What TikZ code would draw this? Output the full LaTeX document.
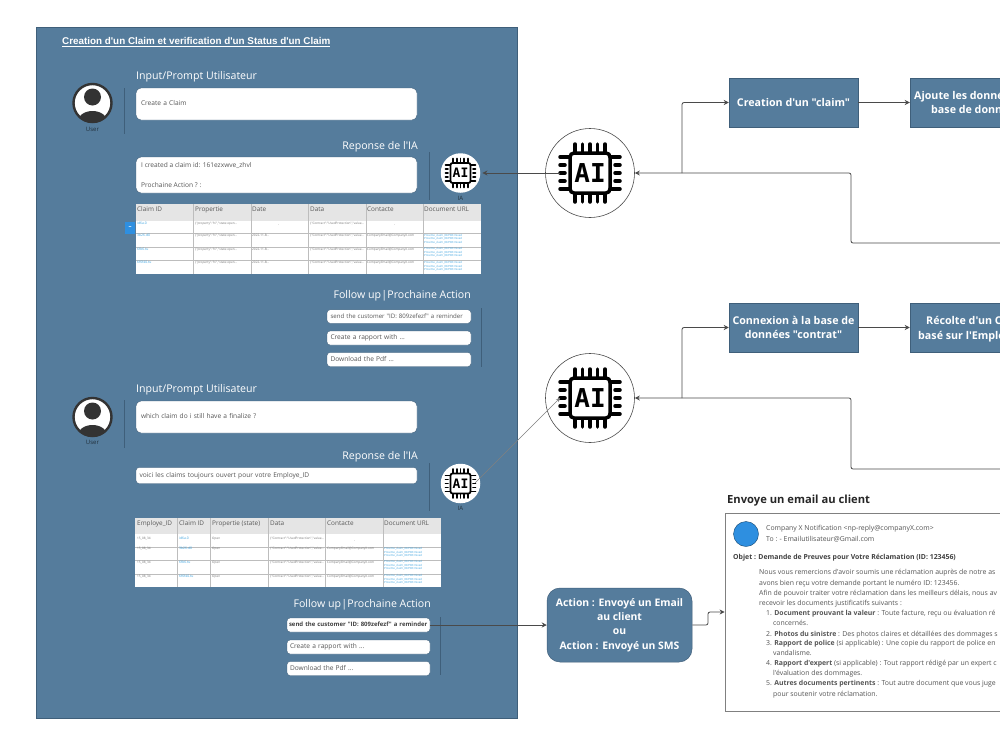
\documentclass[tikz,border=0pt]{standalone}
\usepackage{fontspec}
\setmainfont{Open Sans}[Ligatures=TeXOff]
\newfontfamily\titlefont{Liberation Sans}
\newfontfamily\aifont{DejaVu Sans Mono}
\usetikzlibrary{arrows.meta}
\definecolor{panel}{HTML}{557C9C}
\definecolor{panelline}{HTML}{3F5F7A}
\definecolor{conn}{HTML}{4A4A4A}
\definecolor{link}{HTML}{3BA3E0}
\definecolor{uiblue}{HTML}{2E8FE0}
\definecolor{grayline}{HTML}{BDBDBD}
\definecolor{bodytext}{HTML}{555555}
\newcommand{\fs}[1]{\fontsize{#1}{#1}\selectfont}
\newcounter{cellno}
\newcommand{\tcell}[4][]{\stepcounter{cellno}\node[tcellsty,#1] (cell\thecellno) at (#2,#3) {#4};}
\newcommand{\chipicon}[3]{\begin{scope}[shift={(#1,#2)},x=#3pt,y=#3pt,line width=#3*3.5pt,line cap=round,draw=black]
\draw[rounded corners=#3*4pt] (-20,-20) rectangle (20,20);
\foreach \p in {-15,-7.5,0,7.5,15}{\draw (\p,21)--(\p,29); \draw (\p,-21)--(\p,-29);}
\foreach \s in {-1,1}{
 \draw (\s*20,16)--(\s*30,16);
 \draw (\s*20,-16)--(\s*30,-16);
 \foreach \q in {-8,0,8}{\draw (\s*25,\q)--(\s*30,\q);}
}
\end{scope}}
\newcommand{\usericon}[2]{\begin{scope}[shift={(#1,#2)}]
\begin{scope}
\clip (0,0) circle (20pt);
\fill[black!80] (0,19) ellipse (15pt and 11pt);
\end{scope}
\fill[black!80] (0,-6) circle (8.5pt);
\end{scope}}
\tikzset{
 panelrule/.style={draw=panelline,line width=.9pt},
 uibox/.style={draw=panelline,line width=.4pt,fill=white,rounded corners=#1,inner sep=0pt,text=bodytext,font=\fs{6.6},align=left,text height=5pt,text depth=1.5pt},
 uibox/.default=5pt,
 uitext/.style={anchor=west,inner sep=0pt,text=bodytext,font=\fs{6.6},text height=5pt,text depth=1.5pt},
 heading/.style={text=white,font=\fs{10.6},inner sep=0pt,text height=8.5pt,text depth=2.5pt},
 small/.style={text=black!60!panel,font=\fs{6},inner sep=0pt},
 flowbox/.style={fill=panel,draw=panelline,line width=.5pt,minimum width=129pt,minimum height=49pt,inner sep=0pt,text=white,font=\bfseries\fs{10.7},align=center},
 flowtext/.style={text=white,font=\bfseries\fs{10.7},inner sep=0pt,anchor=west,text height=8.5pt,text depth=2.5pt},
 bigai/.style={circle,draw=black!70,line width=.6pt,fill=white,minimum size=89pt,inner sep=0pt},
 smallai/.style={circle,fill=white,minimum size=39.5pt,inner sep=0pt},
 usercircle/.style={circle,draw=black!80,line width=2.4pt,fill=white,minimum size=38pt,inner sep=0pt},
 connline/.style={draw=conn,line width=.8pt,rounded corners=2pt,-{Stealth[length=5pt,width=5pt]}},
 tcellsty/.style={anchor=west,inner sep=0pt,text=black!55,font=\fs{3.1},text height=2.4pt,text depth=.7pt},
 thead/.style={font=\fs{6.4},text=black!65,text height=5pt,text depth=1.4pt},
 tlink/.style={text=link,font=\fs{3.4}},
 turl/.style={text=link,font=\fs{2.8},text height=2pt,text depth=.6pt},
 mail/.style={anchor=west,inner sep=0pt,text=bodytext,font=\fs{6.9},text height=5.3pt,text depth=1.5pt},
}
\begin{document}
\begin{tikzpicture}[x=1pt,y=-1pt]
\useasboundingbox (0,0) rectangle (1000,750);
\clip (0,0) rectangle (1000,750);
\fill[white] (0,0) rectangle (1000,750);

% panel
\node[fill=panel,draw=panelline,line width=.6pt,minimum width=481.5pt,minimum height=691pt,inner sep=0pt] (panelbg) at (276.8,372.5) {};
\node[anchor=west,inner sep=0pt,text=white,font=\titlefont\bfseries\fs{9.85},text height=7.5pt,text depth=2.3pt] (title) at (62,42) {\underline{Creation d'un Claim et verification d'un Status d'un Claim}};

% first exchange
\node[usercircle] (user1) at (92.5,103) {};
\usericon{92.5}{103}
\node[small] (user1l) at (92.5,129) {User};
\draw[panelrule] (124,88) -- (124,134);
\node[heading,anchor=west] (in1h) at (136,76) {Input/Prompt Utilisateur};
\node[uibox,minimum width=281pt,minimum height=32pt,text width=271pt] (in1) at (276.5,104) {Create a Claim};
\node[heading,anchor=east] (re1h) at (418,146) {Reponse de l'IA};
\node[uibox,minimum width=281pt,minimum height=36pt] (re1) at (276.5,175) {};
\node[uitext] (re1a) at (141,166) {I created a claim id: 161ezxwve\_zhvl};
\node[uitext] (re1b) at (141,186) {Prochaine Action ? :};
\draw[panelrule] (429,152) -- (429,200);
\node[smallai] (ia1) at (460.5,173) {\aifont\bfseries\fs{13}AI};
\chipicon{460.5}{173}{.5}
\node[small] (ia1l) at (460.5,198) {IA};

% table 1
\fill[white] (136,204) rectangle (481,274);
\fill[black!10] (136,204) rectangle (481,221);
\foreach \yy in {233,247,260} \draw[grayline,line width=.7pt] (136,\yy) -- (481,\yy);
\foreach \xx in {193,251,308,366,423} \draw[grayline,line width=.7pt] (\xx,204) -- (\xx,274);
\node[fill=uiblue,minimum width=10pt,minimum height=12pt,inner sep=0pt,text=white,font=\bfseries\fs{6}] (minus) at (130,228) {–};
\tcell[thead]{137}{210}{Claim ID}
\tcell[thead]{195}{210}{Propertie}
\tcell[thead]{252}{210}{Date}
\tcell[thead]{310}{210}{Data}
\tcell[thead]{367}{210}{Contacte}
\tcell[thead]{424}{210}{Document URL}
\foreach \yy/\id in {224/id6a.0,236/3b26.d0,250/6fb6.tu,263/6f6f40.tu}{
 \tcell[tlink]{137}{\yy}{\id}
 \tcell{195}{\yy}{\{"property":"hi","state:open...}
 \tcell{310}{\yy}{\{"Contract":"UsedProtection","value...}
}
\foreach \yy in {236,250,263}{
 \tcell{252}{\yy}{2022-11-B...}
 \tcell{367}{\yy}{CompanyEmail@CompanyX.com}
}
\tcell{278}{225}{-}
\tcell{394}{225}{-}
\foreach \yy in {235.5,239,242.5,249,252.5,256,263,266.5,270}{
 \tcell[turl]{424}{\yy}{Proximo\_claim\_ID/PDF.mixed}
}

% follow up 1
\node[heading,anchor=east] (fu1h) at (471,295) {Follow up\kern.3pt|\kern.3pt Prochaine Action};
\node[uibox=3pt,minimum width=144pt,minimum height=13.5pt,text width=137pt,font=\fs{6.1}] (fu11) at (399,316.5) {\mbox{send the customer "ID: 809zefezf" a reminder}};
\node[uibox=3pt,minimum width=144pt,minimum height=14pt,text width=137pt] (fu12) at (399,338) {Create a rapport with ...};
\node[uibox=3pt,minimum width=144pt,minimum height=14pt,text width=137pt] (fu13) at (399,359.5) {Download the Pdf ...};
\draw[panelrule] (481,308) -- (481,367);

% second exchange
\node[usercircle] (user2) at (92.5,417) {};
\usericon{92.5}{417}
\node[small] (user2l) at (92.5,442) {User};
\draw[panelrule] (124,400) -- (124,448);
\node[heading,anchor=west] (in2h) at (136,389) {Input/Prompt Utilisateur};
\node[uibox,minimum width=281pt,minimum height=32pt,text width=271pt] (in2) at (276.5,417) {which claim do i still have a finalize ?};
\node[heading,anchor=east] (re2h) at (418,456) {Reponse de l'IA};
\node[uibox=3pt,minimum width=281pt,minimum height=16pt,text width=274pt] (re2) at (276.5,475.5) {voici les claims toujours ouvert pour votre Employe\_ID};
\draw[panelrule] (429,463) -- (429,511);
\node[smallai] (ia2) at (460.5,483.5) {\aifont\bfseries\fs{13}AI};
\chipicon{460.5}{483.5}{.5}
\node[small] (ia2l) at (460.5,508) {IA};

% table 2
\fill[white] (135,518) rectangle (441,587);
\fill[black!10] (135,518) rectangle (441,534);
\foreach \yy in {547,560,574} \draw[grayline,line width=.7pt] (135,\yy) -- (441,\yy);
\foreach \xx in {177,210,268,325,383} \draw[grayline,line width=.7pt] (\xx,518) -- (\xx,587);
\tcell[thead]{137}{524}{Employe\_ID}
\tcell[thead]{179}{524}{Claim ID}
\tcell[thead]{212}{524}{Propertie (state)}
\tcell[thead]{270}{524}{Data}
\tcell[thead]{327}{524}{Contacte}
\tcell[thead]{384}{524}{Document URL}
\foreach \yy/\id in {539/id6a.0,549/3b26.d0,563/6fb6.tu,577/6f6f40.tu}{
 \tcell{137}{\yy}{15\_08\_34}
 \tcell[tlink]{179}{\yy}{\id}
 \tcell{212}{\yy}{Open}
 \tcell{270}{\yy}{\{"Contract":"UsedProtection","value...}
}
\foreach \yy in {549,563,577}{
 \tcell{327}{\yy}{CompanyEmail@CompanyX.com}
}
\tcell{354}{541}{-}
\foreach \yy in {549,552.5,556,562,565.5,569,576,579.5,583}{
 \tcell[turl]{384}{\yy}{Proximo\_claim\_ID/PDF.mixed}
}

% follow up 2
\node[heading,anchor=east] (fu2h) at (431,604) {Follow up\kern.3pt|\kern.3pt Prochaine Action};
\node[uibox=3pt,minimum width=143pt,minimum height=14pt,text width=139pt,font=\bfseries\fs{6},text=black!75] (fu21) at (358.5,625) {\mbox{send the customer "ID: 809zefezf" a reminder}};
\node[uibox=3pt,minimum width=143pt,minimum height=14pt,text width=137pt] (fu22) at (358.5,647) {Create a rapport with ...};
\node[uibox=3pt,minimum width=143pt,minimum height=14pt,text width=137pt] (fu23) at (358.5,668.5) {Download the Pdf ...};
\draw[panelrule] (440,617) -- (440,675);

% big AI circles
\node[bigai] (ai1) at (590,173) {\aifont\bfseries\fs{26}AI};
\chipicon{590}{173}{1}
\node[bigai] (ai2) at (590,398) {\aifont\bfseries\fs{26}AI};
\chipicon{590}{398}{1}

% flow boxes
\node[flowbox] (cr1) at (793.5,102.5) {Creation d'un "claim"};
\node[flowbox,minimum width=140pt] (aj1) at (980,102.5) {};
\node[flowtext] (aj1a) at (914,96) {Ajoute les donné};
\node[flowtext] (aj1b) at (931,110) {base de donn};
\node[flowbox] (co2) at (793.5,327.5) {Connexion à la base de\\[4pt]données "contrat"};
\node[flowbox,minimum width=140pt] (re2b) at (980,327.5) {};
\node[flowtext] (re2a) at (926,321) {Récolte d'un C};
\node[flowtext] (re2c) at (918,336) {basé sur l'Emplo};
\node[flowbox,rounded corners=13pt,minimum width=145pt,minimum height=74pt,font=\bfseries\fs{10.4}] (act) at (619.5,625) {Action : Envoyé un Email\\[4pt]au client\\[4pt]ou\\[4pt]Action : Envoyé un SMS};

% email
\node[anchor=west,inner sep=0pt,text=black!85,font=\bfseries\fs{11.2},text height=8.8pt,text depth=2.6pt] (emt) at (727,500) {Envoye un email au client};
\node[draw=black!50,line width=.8pt,fill=white,minimum width=340pt,minimum height=198pt,inner sep=0pt] (em) at (895,612) {};
\node[circle,fill=uiblue,draw=black!50!uiblue,line width=.4pt,minimum size=25pt,inner sep=0pt] (avatar) at (746,534) {};
\node[mail] (m1) at (766,529) {Company X Notification <np-reply@companyX.com>};
\node[mail] (m2) at (766,540) {To : - Emailutilisateur@Gmail.com};
\node[mail,text=black!75] (m3) at (733,558) {\textbf{Objet : Demande de Preuves pour Votre Réclamation (ID: 123456)}};
\node[mail] (m4) at (759,573) {Nous vous remercions d'avoir soumis une réclamation auprès de notre as};
\node[mail] (m5) at (759,584) {avons bien reçu votre demande portant le numéro ID: 123456.};
\node[mail] (m6) at (759,594) {Afin de pouvoir traiter votre réclamation dans les meilleurs délais, nous av};
\node[mail] (m7) at (759,604) {recevoir les documents justificatifs suivants :};
\node[mail] (m8) at (766,614) {1. \textbf{Document prouvant la valeur} : Toute facture, reçu ou évaluation ré};
\node[mail] (m9) at (773,624) {concernés.};
\node[mail] (m10) at (766,635) {2. \textbf{Photos du sinistre} : Des photos claires et détaillées des dommages s};
\node[mail] (m11) at (766,644) {3. \textbf{Rapport de police} (si applicable) : Une copie du rapport de police en};
\node[mail] (m12) at (773,654) {vandalisme.};
\node[mail] (m13) at (766,664) {4. \textbf{Rapport d'expert} (si applicable) : Tout rapport rédigé par un expert c};
\node[mail] (m14) at (773,674) {l'évaluation des dommages.};
\node[mail] (m15) at (766,684) {5. \textbf{Autres documents pertinents} : Tout autre document que vous juge};
\node[mail] (m16) at (773,695) {pour soutenir votre réclamation.};

% connectors
\coordinate (r1) at (1002,243);
\coordinate (c1) at (851,243);
\coordinate (b1) at (682,173);
\coordinate (ain1) at (560,173);
\coordinate (r2) at (1002,469);
\coordinate (c2) at (851,469);
\coordinate (b2) at (682,398);
\coordinate (ain2) at (560,398);
\coordinate (iout2) at (475,483);
\draw[connline] (r1) -- (c1) -- (c1|-ai1.east) -- (ai1.east);
\draw[connline] (b1) |- (cr1.west);
\draw[connline] (cr1.east) -- (aj1.west);
\draw[connline,shorten >=2pt] (ain1) -- (ia1.east);
\draw[connline] (r2) -- (c2) -- (c2|-ai2.east) -- (ai2.east);
\draw[connline] (b2) |- (co2.west);
\draw[connline] (co2.east) -- (re2b.west);
\draw[draw=conn!70,line width=.5pt,-{Stealth[length=4pt,width=4pt]}] (iout2) -- (ain2);
\draw[connline] (fu21.east) -- (act.west);
\draw[connline] (act.east) -- (708,625) |- (em.west);
\end{tikzpicture}
\end{document}
